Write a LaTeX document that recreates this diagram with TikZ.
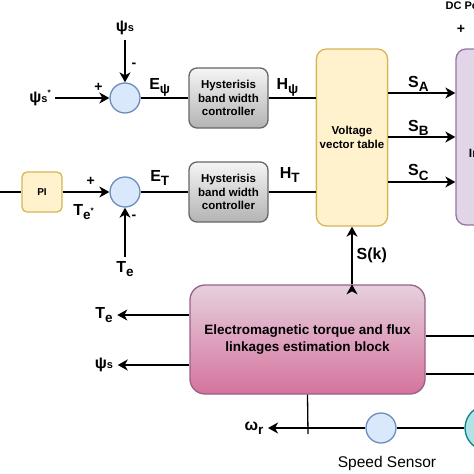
\documentclass[tikz,border=0pt]{standalone}
\usepackage{fontspec}
\setmainfont{Liberation Sans}
\usetikzlibrary{positioning, arrows.meta}

\definecolor{sumfill}{HTML}{DAE8FC}
\definecolor{sumline}{HTML}{6C8EBF}
\definecolor{hysttop}{HTML}{F5F5F5}
\definecolor{hystbot}{HTML}{B3B3B3}
\definecolor{hystline}{HTML}{666666}
\definecolor{vvtfill}{HTML}{FFF2CC}
\definecolor{vvtline}{HTML}{D6B656}
\definecolor{invfill}{HTML}{E1D5E7}
\definecolor{invline}{HTML}{9673A6}
\definecolor{esttop}{HTML}{E6D0DE}
\definecolor{estbot}{HTML}{D5739D}
\definecolor{estline}{HTML}{996185}
\definecolor{motfill}{HTML}{B0E3E6}
\definecolor{motline}{HTML}{0E8088}

% lowered index, small letter, raised star
\newcommand{\lo}[1]{\raisebox{-0.5ex}{\fontsize{13.5}{13.5}\selectfont #1}}
\newcommand{\sm}[1]{{\fontsize{11}{11}\selectfont #1}}
\newcommand{\st}{\raisebox{0.9ex}{\fontsize{8}{8}\selectfont *}}

\begin{document}
\begin{tikzpicture}[x=1pt, y=-1pt, line width=1.3pt,
	sig/.style={-{Stealth[length=10pt, width=11pt, inset=3pt]}},
	sum/.style={circle, draw=sumline, fill=sumfill, minimum size=30pt, inner sep=0pt},
	hyst/.style={draw=hystline, top color=hysttop, bottom color=hystbot, rounded corners=8pt,
		minimum width=79pt, minimum height=60pt, align=center, font=\fontsize{11.5}{13.5}\selectfont\bfseries},
	vvt/.style={draw=vvtline, fill=vvtfill, rounded corners=10pt, minimum width=70pt, minimum height=177pt,
		align=center, font=\fontsize{11.5}{14}\selectfont\bfseries},
	pi/.style={draw=vvtline, fill=vvtfill, rounded corners=5pt, minimum size=40pt,
		font=\fontsize{10}{10}\selectfont\bfseries},
	inv/.style={draw=invline, fill=invfill, rounded corners=10pt, minimum width=70pt, minimum height=176pt},
	est/.style={draw=estline, top color=esttop, bottom color=estbot, rounded corners=15pt,
		minimum width=235pt, minimum height=109pt, align=center, font=\fontsize{13.5}{17}\selectfont\bfseries},
	motor/.style={circle, draw=motline, fill=motfill, minimum size=45pt, inner sep=0pt},
	lbl/.style={font=\fontsize{16}{16}\selectfont\bfseries, inner sep=4pt},
	elbl/.style={lbl, inner sep=1pt},
	sgn/.style={font=\fontsize{14}{14}\selectfont\bfseries, inner sep=2pt},
]
	\useasboundingbox (0,0) rectangle (474,474);
	\clip (0,0) rectangle (474,474);

	% summing points and their inputs
	\node[sum] (sum1) at (125,98) {};
	\node[sum] (sum2) at (125,192) {};
	\node[lbl] (psiref) at (40,98) {ψ\sm{s}\st};
	\node[lbl] (psifb) at (125,28) {ψ\sm{s}};
	\node[lbl] (tefb) at (125,269) {T\lo{e}};
	\node[pi] (pi) at (42,192) {PI};
	\coordinate (speedin) at (-5,192);

	% controllers
	\node[hyst] (hyst1) at (228.5,98) {Hysterisis\\band width\\controller};
	\node[hyst] (hyst2) at (228.5,192) {Hysterisis\\band width\\controller};
	\node[vvt] (vvt) at (352,137.5) {Voltage\\vector table};
	\node[inv] (inv) at (491,137) {};
	\node[font=\fontsize{12}{12}\selectfont\bfseries] (invtxt) at (491,153) {Inverter};
	\node[anchor=west, inner sep=0pt, font=\fontsize{11}{11}\selectfont\bfseries] (dcsrc) at (445,6) {DC Power};
	\node[sgn] (dcplus) at (461,29) {+};

	% estimator and speed feedback
	\node[est] (est) at (307.5,339.5) {Electromagnetic torque and flux\\linkages estimation block};
	\node[lbl] (teout) at (104,315) {T\lo{e}};
	\node[lbl] (psiout) at (104,365) {ψ\sm{s}};
	\node[sum] (sensor) at (381,428) {};
	\node[font=\fontsize{15.5}{15.5}\selectfont] (sensorlbl) at (387,463) {Speed Sensor};
	\node[motor] (motor) at (487.5,428) {};
	\node[lbl] (wr) at (254,428) {ω\lo{r}};
	\coordinate (tap) at (308,434);
	\coordinate (outa) at (480,336);
	\coordinate (outb) at (480,374);

	\draw[sig]
		(psiref) edge node[sgn, above=4pt, pos=0.8]{+} (sum1)
		(psifb) edge node[sgn, right=4pt, pos=0.6]{-} (sum1)
		(pi) edge node[sgn, above=4pt, pos=0.6]{+} node[lbl, below=8pt, pos=0.45]{T\lo{e\st}} (sum2)
		(tefb) edge node[sgn, right=4pt, pos=0.8]{-} (sum2)
		([yshift=44pt]inv.west -| vvt.east) edge node[elbl, above, pos=0.45]{S\lo{A}} ([yshift=44pt]inv.west)
		(inv.west -| vvt.east) edge node[elbl, above, pos=0.45]{S\lo{B}} (inv.west)
		([yshift=-45pt]inv.west -| vvt.east) edge node[elbl, above, pos=0.45]{S\lo{C}} ([yshift=-45pt]inv.west)
		(est.north -| vvt.south) edge node[lbl, right]{S(k)} (vvt.south)
		(sensor) edge (wr)
		;
	\draw[sig] ([yshift=24.5pt]est.west) -- (teout);
	\draw[sig] ([yshift=-25.5pt]est.west) -- (psiout);

	\draw
		(speedin) edge (pi)
		(sum1) edge node[elbl, above, pos=0.4]{E\lo{ψ}} (hyst1)
		(hyst1) edge node[elbl, above, pos=0.4]{H\lo{ψ}} (hyst1 -| vvt.west)
		(sum2) edge node[elbl, above=5pt, pos=0.4]{E\lo{T}} (hyst2)
		(hyst2) edge node[elbl, above=8pt, pos=0.45]{H\lo{T}} (hyst2 -| vvt.west)
		(est.east |- outa) edge (outa)
		(est.east |- outb) edge (outb)
		(est.south) edge (tap)
		(motor) edge (sensor)
		;
\end{tikzpicture}
\end{document}
